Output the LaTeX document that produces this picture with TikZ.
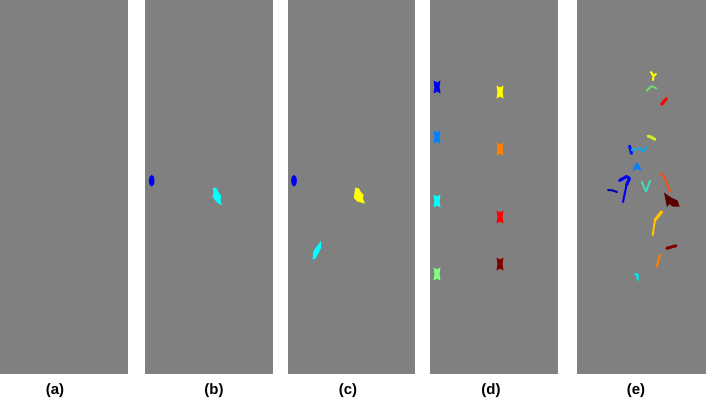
\documentclass[tikz,border=0pt]{standalone}
\usepackage{fontspec}
\setmainfont{Liberation Sans}
\usepackage{tikz}

\definecolor{panelgray}{RGB}{128,128,128}
\definecolor{jblue}{RGB}{0,0,240}
\definecolor{jdblue}{RGB}{0,0,170}
\definecolor{jlblue}{RGB}{0,128,255}
\definecolor{jsky}{RGB}{20,165,230}
\definecolor{jcyan}{RGB}{0,255,255}
\definecolor{jteal}{RGB}{70,215,185}
\definecolor{jlgreen}{RGB}{128,255,128}
\definecolor{jygreen}{RGB}{205,235,40}
\definecolor{jyellow}{RGB}{255,255,0}
\definecolor{jgold}{RGB}{255,195,0}
\definecolor{jorange}{RGB}{255,128,0}
\definecolor{jred}{RGB}{255,0,0}
\definecolor{jorred}{RGB}{240,80,20}
\definecolor{jdred}{RGB}{128,0,0}

\begin{document}
\begin{tikzpicture}[x=1pt,y=-1pt,
  panel/.style={fill=panelgray},
  caption/.style={font=\bfseries\fontsize{15}{15}\selectfont,inner sep=0pt},
  streak/.style={line width=3pt,line cap=round,line join=round},
  fine/.style={line width=2pt,line cap=round,line join=round}]
  \useasboundingbox (0,0) rectangle (706,400);
  % the five gray frames
  \foreach \l/\r in {0/127.5,144.5/272.5,287.5/415,429.5/557.5,576.5/706}
    \fill[panel] (\l,0) rectangle (\r,374);
  \node[caption] (capa) at (55,391) {(a)};
  \node[caption] (capb) at (214,391) {(b)};
  \node[caption] (capc) at (348,391) {(c)};
  \node[caption] (capd) at (491,391) {(d)};
  \node[caption] (cape) at (636,391) {(e)};
  % (b)
  \fill[jblue] (151.7,180.7) ellipse [x radius=2.8, y radius=5.8];
  \fill[jcyan] (213,187.5) -- (217,188.5) -- (218.5,192.5) -- (221,195.5) -- (220.5,201) -- (222,205)
    -- (218.5,203.5) -- (215.5,200.5) -- (212.5,197) -- (213.5,192.5) -- cycle;
  % (c)
  \fill[jblue] (294,180.7) ellipse [x radius=2.8, y radius=5.8];
  \fill[jyellow] (355.5,187.5) -- (359,188.5) -- (360.5,191.5) -- (363.5,194.5) -- (363,199) -- (365,203.5)
    -- (361,202.5) -- (357.5,201.5) -- (354,198) -- (354.5,192.5) -- cycle;
  \fill[jcyan] (312.5,259.5) -- (313.5,251) -- (317.5,245.5) -- (321,241) -- (321,248)
    -- (318,254) -- (315.5,258.5) -- cycle;
  % (d)
  \foreach \x/\y/\c in {437/87/jblue,437/137/jlblue,437/201/jcyan,437/274/jlgreen,
                        500/92/jyellow,500/149/jorange,500/217/jred,500/264/jdred}
    \fill[\c,shift={(\x,\y)}] (-3.5,-6.5) -- (0,-4.5) -- (3.5,-6.5) -- (2.5,0) -- (3.5,6.5)
      -- (0,4.5) -- (-3.5,6.5) -- (-2.5,0) -- cycle;
  % (e)
  \draw[fine,jyellow] (651,72) -- (653.5,76) -- (656,74) (653.5,76) -- (653,80);
  \draw[fine,jlgreen!85!black] (646.5,91) -- (651.5,86) -- (656.5,88.5);
  \draw[streak,jred] (661.5,104.5) -- (666.5,98.5);
  \draw[streak,jygreen] (648,136) -- (651,137) -- (655,139.5);
  \draw[streak,jblue!90!cyan] (629.5,146) -- (631.5,153.5);
  \draw[fine,jsky] (631.5,150) -- (636.5,149.3) -- (640,148.3) -- (643.3,151.7) -- (646.7,146.7);
  \fill[jlblue] (632.5,171.5) -- (636,162.5) -- (638.5,164.5) -- (641.5,170.5) -- (637,169) -- cycle;
  \draw[streak,jblue] (619.5,180.5) -- (626.7,176.5) -- (629.5,178.5) -- (626.5,185);
  \draw[fine,jblue] (626.5,185) -- (623,202);
  \draw[fine,jdblue] (608,190) -- (613,190.5) -- (617,192);
  \draw[fine,jteal] (641.7,181.7) -- (646,191.7) -- (650,181);
  \draw[fine,jorred] (661,173.3) -- (665,178.3) -- (670,191.7);
  \fill[jdred!130!red] (664,192.5) -- (668,195.5) -- (672,198) -- (677.5,200.5) -- (679.5,206.5)
    -- (673,206.5) -- (669,204) -- (667,207.5) -- (665.5,200) -- cycle;
  \draw[streak,jgold] (661.7,211.7) -- (655,220);
  \draw[fine,jgold] (655,220) -- (652.7,235);
  \draw[streak,jdred] (666.7,248.3) -- (676,245.7);
  \draw[fine,jorange] (660,255) -- (656.7,266.7);
  \draw[fine,jcyan!80!teal] (635,274) -- (638.5,275.5) (636.5,274) -- (638,280);
\end{tikzpicture}
\end{document}
